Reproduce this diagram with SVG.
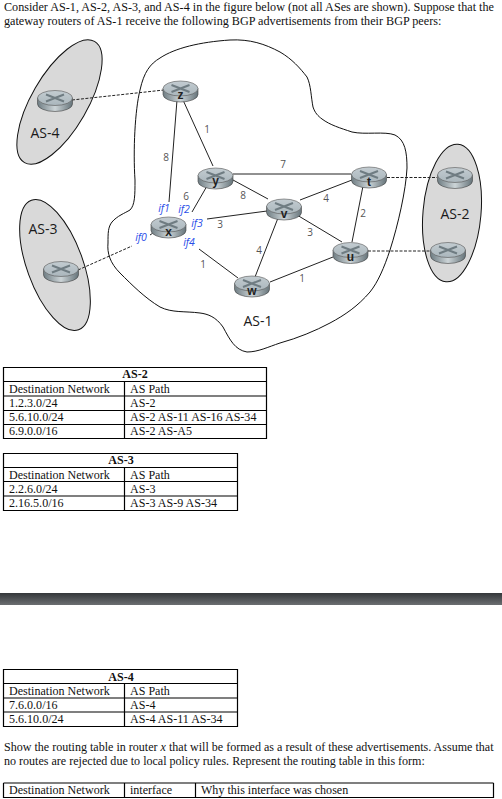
<svg xmlns="http://www.w3.org/2000/svg" width="502" height="799" viewBox="0 0 502 799">
<style>
.p{font-family:"Liberation Serif","Times New Roman",serif;font-size:12.05px;fill:#111}
.top{font-size:12.17px}
.pb{font-weight:bold;text-anchor:middle}
.as{font-family:"Open Sans","Noto Sans",sans-serif;font-size:14px;fill:#1a1a1a;text-anchor:middle}
.n{font-family:"Open Sans","Noto Sans",sans-serif;font-size:10px;fill:#555;text-anchor:middle}
.if{font-family:"Open Sans","Noto Sans",sans-serif;font-size:10.5px;font-style:italic;fill:#2a4ee8;text-anchor:middle}
.r{font-family:"Liberation Sans",sans-serif;font-size:12px;font-weight:bold;fill:#222;text-anchor:middle}
.cloud{fill:#d9d9d9;stroke:#111;stroke-width:1}
.blob{fill:none;stroke:#111;stroke-width:1}
.l{stroke:#222;stroke-width:1;fill:none}
.d{stroke:#222;stroke-width:1;fill:none;stroke-dasharray:3 1.5}
.t{fill:none;stroke:#000;stroke-width:1.2}
</style>
<defs>
<linearGradient id="body" x1="0" x2="1" y1="0" y2="0">
<stop offset="0" stop-color="#6f7d83"/><stop offset=".5" stop-color="#ccd4d7"/><stop offset="1" stop-color="#66747a"/>
</linearGradient>
<linearGradient id="topg" x1="0" x2="0" y1="0" y2="1">
<stop offset="0" stop-color="#c3ccd1"/><stop offset="1" stop-color="#aab6bc"/>
</linearGradient>
<linearGradient id="bar" x1="0" x2="0" y1="0" y2="1">
<stop offset="0" stop-color="#34373a"/><stop offset="1" stop-color="#6b6e71"/>
</linearGradient>
<g id="router">
<path d="M-17.500 0V6A17.500 7.500 0 0 0 17.500 6V0Z" fill="url(#body)" stroke="#444" stroke-width=".6"/>
<ellipse rx="17.500" ry="7.500" fill="url(#topg)" stroke="#555" stroke-width=".6"/>
<path d="M-9-3.500L9 3.500M9-3.500L-9 3.500" stroke="#6f7c82" stroke-width="2" fill="none"/>
</g>
</defs>
<rect width="502" height="799" fill="#fff"/>
<text class="p top" x="4" y="10.500">Consider AS-1, AS-2, AS-3, and AS-4 in the figure below (not all ASes are shown). Suppose that the</text>
<text class="p top" x="4" y="24.500">gateway routers of AS-1 receive the following BGP advertisements from their BGP peers:</text>
<g id="as-clouds">
<ellipse id="as4-cloud" class="cloud" cx="59.500" cy="102" rx="28" ry="70" transform="rotate(30 59.500 102)"/>
<ellipse id="as3-cloud" class="cloud" cx="55" cy="265" rx="28" ry="69" transform="rotate(-20 55 265)"/>
<ellipse id="as2-cloud" class="cloud" cx="452" cy="213" rx="29" ry="69" transform="rotate(5 452 213)"/>
</g>
<path id="as1-blob" class="blob" d="M135 180C133 150 135 110 140 90C144 72 150 64 160 58C175 48 200 42 230 40C250 39 265 44 280 52C292 59 300 68 307 77C311 85 311 97 313 107C315 113 318 116 322 119C330 125 340 128 352 132C365 135 385 131 395 135C405 140 407 152 407 168C406 190 398 225 390 250C384 268 378 282 370 292C358 306 345 315 330 323C315 331 298 338 280 343C268 347 258 352 247 352C235 350 230 340 223 327C216 317 208 314 200 313C185 311 172 313 160 307C145 298 132 285 120 273C110 263 107 253 108 243C108 233 108 227 112 222C117 216 125 213 130 210C135 205 135 195 135 180Z"/>
<g id="connectors">
<path class="l" d="M183 100L213 166M177 100L169 202M192 212L207 186M233 174H351M233 180L268 199M207 219L267 211M199 249L238 278M255 277L278 218M270 282L333 257M300 200L352 180M297 215L342 242M363 186L352 242"/>
<path class="d" d="M72 100L164 90M78 270L132 246M150 235L153 233M387 177.500H437M368 251H430"/>
</g>
<g id="router-as4"><use href="#router" x="55" y="98"/></g>
<g id="router-as3"><use href="#router" x="61" y="269"/></g>
<g id="router-as2a"><use href="#router" x="455" y="175"/></g>
<g id="router-as2b"><use href="#router" x="448" y="250"/></g>
<g id="router-z"><use href="#router" x="180.500" y="88.500"/><text class="r" x="180.500" y="99">z</text></g>
<g id="router-y"><use href="#router" x="215.500" y="175.500"/><text class="r" x="215.500" y="185">y</text></g>
<g id="router-x"><use href="#router" x="168.500" y="224.500"/><text class="r" x="168.500" y="236">x</text></g>
<g id="router-w"><use href="#router" x="252" y="283.500"/><text class="r" x="252" y="295">w</text></g>
<g id="router-v"><use href="#router" x="284" y="206.500"/><text class="r" x="284" y="218">v</text></g>
<g id="router-t"><use href="#router" x="369" y="174.500"/><text class="r" x="369" y="186">t</text></g>
<g id="router-u"><use href="#router" x="350.500" y="250"/><text class="r" x="350.500" y="261">u</text></g>
<g id="labels">
<text class="as" x="45" y="138">AS-4</text>
<text class="as" x="43" y="234">AS-3</text>
<text class="as" x="455" y="219">AS-2</text>
<text class="as" x="258" y="326">AS-1</text>
<text class="n" x="166" y="161">8</text>
<text class="n" x="207" y="133">1</text>
<text class="n" x="186" y="200">6</text>
<text class="n" x="243" y="199">8</text>
<text class="n" x="283" y="168">7</text>
<text class="n" x="326" y="202">4</text>
<text class="n" x="363" y="217">2</text>
<text class="n" x="310" y="236">3</text>
<text class="n" x="259" y="254">4</text>
<text class="n" x="302" y="282">1</text>
<text class="n" x="220" y="228">3</text>
<text class="n" x="203" y="268">1</text>
<text class="if" x="164" y="212">if1</text>
<text class="if" x="184" y="213">if2</text>
<text class="if" x="197" y="227">if3</text>
<text class="if" x="189" y="246">if4</text>
<text class="if" x="141" y="241">if0</text>
</g>
<g id="table-as2">
<path class="t" d="M3.500 367.500H266.500V438.500H3.500ZM3.500 381.500H266.500M3.500 396H266.500M3.500 410.500H266.500M3.500 424.500H266.500M124.500 381.500V438.500"/>
<text class="p pb" x="135" y="378">AS-2</text>
<text class="p" x="9" y="393">Destination Network</text><text class="p" x="130" y="393">AS Path</text>
<text class="p" x="9" y="407">1.2.3.0/24</text><text class="p" x="130" y="407">AS-2</text>
<text class="p" x="9" y="421">5.6.10.0/24</text><text class="p" x="130" y="421">AS-2 AS-11 AS-16 AS-34</text>
<text class="p" x="9" y="435">6.9.0.0/16</text><text class="p" x="130" y="435">AS-2 AS-A5</text>
</g>
<g id="table-as3">
<path class="t" d="M3.500 453.500H237.500V510.500H3.500ZM3.500 467.500H237.500M3.500 481.500H237.500M3.500 496H237.500M124.500 467.500V510.500"/>
<text class="p pb" x="121" y="464">AS-3</text>
<text class="p" x="9" y="479">Destination Network</text><text class="p" x="130" y="479">AS Path</text>
<text class="p" x="9" y="493">2.2.6.0/24</text><text class="p" x="130" y="493">AS-3</text>
<text class="p" x="9" y="507">2.16.5.0/16</text><text class="p" x="130" y="507">AS-3 AS-9 AS-34</text>
</g>
<rect id="page-bar" x="0" y="593" width="502" height="12" fill="url(#bar)"/>
<g id="table-as4">
<path class="t" d="M3.500 669.500H237.500V726.500H3.500ZM3.500 683.500H237.500M3.500 698H237.500M3.500 712H237.500M124.500 683.500V726.500"/>
<text class="p pb" x="121" y="681">AS-4</text>
<text class="p" x="9" y="695">Destination Network</text><text class="p" x="130" y="695">AS Path</text>
<text class="p" x="9" y="709">7.6.0.0/16</text><text class="p" x="130" y="709">AS-4</text>
<text class="p" x="9" y="723">5.6.10.0/24</text><text class="p" x="130" y="723">AS-4 AS-11 AS-34</text>
</g>
<text class="p" x="4" y="751">Show the routing table in router <tspan font-style="italic">x</tspan> that will be formed as a result of these advertisements. Assume that</text>
<text class="p" x="4" y="765">no routes are rejected due to local policy rules. Represent the routing table in this form:</text>
<g id="table-form">
<path class="t" d="M3.500 783H493.500M3.500 797.500H493.500M3.500 783V798M124.500 783V798M195.500 783V798M493.500 783V798"/>
<text class="p" x="9" y="794">Destination Network</text>
<text class="p" x="130" y="794">interface</text>
<text class="p" x="201" y="794">Why this interface was chosen</text>
</g>
</svg>
